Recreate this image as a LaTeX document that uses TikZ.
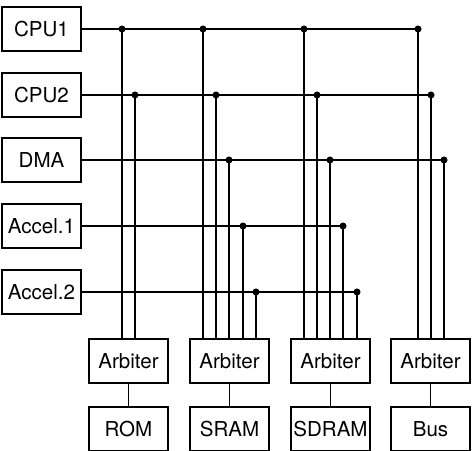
\documentclass[tikz,border=0pt]{standalone}
\usepackage{fontspec}
\setmainfont{TeX Gyre Heros}
\usetikzlibrary{positioning,calc}

\begin{document}
\begin{tikzpicture}[x=0.025cm, y=-0.025cm,
    unit/.style={draw, line width=1.5pt, minimum width=1.975cm, minimum height=1.1cm,
        inner sep=0pt, font=\fontsize{14.6}{16}\selectfont},
    wire/.style={line width=1.2pt}]
    \useasboundingbox (0,0) rectangle (474,451);

    % Masters
    \node[unit] (cpu1) at (41.5,29) {CPU1};
    \node[unit] (cpu2) at (41.5,95) {CPU2};
    \node[unit] (dma) at (41.5,160) {DMA};
    \node[unit] (acc1) at (41.5,226) {Accel.1};
    \node[unit] (acc2) at (41.5,292) {Accel.2};

    % Arbiters and slaves
    \node[unit] (arbrom) at (128.5,361) {Arbiter};
    \node[unit] (arbsram) at (229.5,361) {Arbiter};
    \node[unit] (arbsdram) at (330.5,361) {Arbiter};
    \node[unit] (arbbus) at (430.5,361) {Arbiter};
    \node[unit, below=0.55cm of arbrom] (rom) {ROM};
    \node[unit, below=0.55cm of arbsram] (sram) {SRAM};
    \node[unit, below=0.55cm of arbsdram] (sdram) {SDRAM};
    \node[unit, below=0.55cm of arbbus] (bus) {Bus};
    \foreach \a/\s in {arbrom/rom, arbsram/sram, arbsdram/sdram, arbbus/bus}
        \draw[wire] (\a) -- (\s);

    % Taps on the arbiter inputs
    \foreach \a/\m/\dx in {rom/cpu1/-6.5, rom/cpu2/6.5,
            sram/cpu1/-26.5, sram/cpu2/-13.5, sram/dma/-0.5, sram/acc1/13.5, sram/acc2/26.5,
            sdram/cpu1/-26.5, sdram/cpu2/-13.5, sdram/dma/-0.5, sdram/acc1/12.5, sdram/acc2/26.5,
            bus/cpu1/-12.5, bus/cpu2/0.5, bus/dma/13.5} {
        \coordinate (tap\a\m) at ($(arb\a.north)+(\dx,0)$);
        \draw[wire] (tap\a\m |- \m) -- (tap\a\m);
        \fill (tap\a\m |- \m) circle[radius=2.5pt];
    }

    % Master lines
    \draw[wire] (cpu1.east) -- (tapbuscpu1 |- cpu1);
    \draw[wire] (cpu2.east) -- (tapbuscpu2 |- cpu2);
    \draw[wire] (dma.east) -- (tapbusdma |- dma);
    \draw[wire] (acc1.east) -- (tapsdramacc1 |- acc1);
    \draw[wire] (acc2.east) -- (tapsdramacc2 |- acc2);
\end{tikzpicture}
\end{document}
